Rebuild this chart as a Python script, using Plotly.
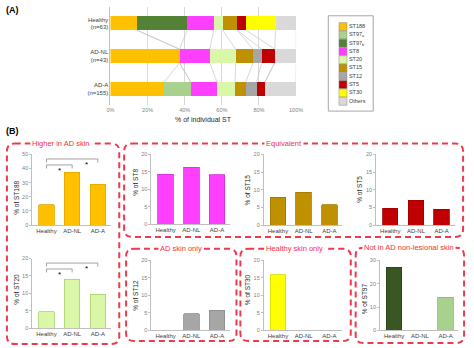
import plotly.graph_objects as go

W, H = 474, 348

# ---------------- data ----------------
groups = ["Healthy", "AD-NL", "AD-A"]
group_n = [63, 43, 155]

st_names = ["ST188", "ST97<sub>a</sub>", "ST97<sub>b</sub>", "ST8", "ST20", "ST15", "ST12", "ST5", "ST30", "Others"]
st_colors = ["#FFC000", "#A9D18E", "#538135", "#FF3FFF", "#D9F7A6", "#BF9000", "#A6A6A6", "#C00000", "#FFFF00", "#D9D9D9"]

# % of individual ST in each group (Healthy, AD-NL, AD-A)
st188 = [14.3, 37.2, 29.0]
st97a = [0.0, 0.0, 14.2]
st97b = [27.0, 0.0, 0.0]
st8 = [14.3, 16.3, 14.2]
st20 = [4.8, 14.0, 9.7]
st15 = [7.9, 9.3, 5.8]
st12 = [0.0, 4.7, 5.8]
st5 = [4.8, 7.0, 4.5]
st30 = [15.9, 0.0, 0.0]
others = [11.1, 11.6, 16.8]
st97 = [27.0, 0.0, 14.2]

series = [st188, st97a, st97b, st8, st20, st15, st12, st5, st30, others]

pct_ticks = [0, 20, 40, 60, 80, 100]
pct_labels = ["0%", "20%", "40%", "60%", "80%", "100%"]

box_titles = ["Higher in AD skin", "Equivalent", "AD skin only", "Healthy skin only", "Not in AD non-lesional skin"]

FONT = "Liberation Sans, Arial, sans-serif"
RED_LINE = "#EC3A4E"
RED_TEXT = "#F2313C"
AX = "#BFBFBF"


def fx(px):
    return px / W


def fy(py):
    return 1 - py / H


fig = go.Figure()
layout = dict(
    width=W, height=H, margin=dict(l=0, r=0, t=0, b=0),
    paper_bgcolor="white", plot_bgcolor="white",
    barmode="stack", showlegend=False,
    font=dict(family=FONT, color="#404040"),
)
shapes = []
annotations = []


def note(text, x, y, size, color, **kw):
    d = dict(text=text, x=x, y=y, xref="paper", yref="paper", showarrow=False,
             xanchor="center", yanchor="middle", font=dict(size=size, color=color))
    d.update(kw)
    annotations.append(d)


# ---------------- panel A ----------------
BAR_H = 0.42
for name, vals, col in zip(st_names, series, st_colors):
    fig.add_trace(go.Bar(x=vals, y=[0, 1, 2], orientation="h", width=BAR_H,
                         marker=dict(color=col, line=dict(width=0)),
                         xaxis="x", yaxis="y", name=name, hoverinfo="skip"))

# series lines (Excel style) connecting cumulative ends between bars
cum = []
run = [0.0, 0.0, 0.0]
for vals in series:
    run = [r + v for r, v in zip(run, vals)]
    cum.append(list(run))
lx, ly = [], []
for c in cum:
    for g in range(2):
        lx += [c[g], c[g + 1], None]
        ly += [g + BAR_H / 2, g + 1 - BAR_H / 2, None]
fig.add_trace(go.Scatter(x=lx, y=ly, mode="lines", line=dict(color="#BDBDBD", width=0.6),
                         xaxis="x", yaxis="y", hoverinfo="skip"))

layout["xaxis"] = dict(domain=[fx(109), fx(299)], range=[0, 100], tickvals=pct_ticks, ticktext=pct_labels,
                       showgrid=True, gridcolor="#D9D9D9", gridwidth=0.8,
                       zeroline=False, showline=False, ticks="", anchor="y",
                       tickfont=dict(size=5.5, color="#7F7F7F"))
layout["yaxis"] = dict(domain=[fy(104), fy(4)], range=[2.5, -0.5], tickvals=[0, 1, 2],
                       ticktext=[f"{g}<br>(n={n})" for g, n in zip(groups, group_n)],
                       showline=True, linecolor=AX, linewidth=1, ticks="", showgrid=False,
                       zeroline=False, anchor="x", tickfont=dict(size=6, color="#404040"))
note("% of individual ST", fx(204), fy(119), 7, "#262626")

# legend (drawn as a small scatter axis)
fig.add_trace(go.Scatter(x=[0] * len(st_names), y=list(range(len(st_names))), mode="markers+text",
                         marker=dict(symbol="square", size=8, color=st_colors,
                                     line=dict(width=0.5, color="#8C8C8C")),
                         text=st_names, textposition="middle right",
                         textfont=dict(size=5.5, color="#404040"), cliponaxis=False,
                         xaxis="x10", yaxis="y10", hoverinfo="skip"))
layout["xaxis10"] = dict(domain=[fx(343), fx(351)], range=[-1, 1], visible=False, anchor="y10")
layout["yaxis10"] = dict(domain=[fy(104.2), fy(19.8)], range=[9.5, -0.5], visible=False, anchor="x10")
shapes.append(dict(type="rect", xref="paper", yref="paper", x0=fx(332), x1=fx(378), y0=fy(110), y1=fy(13),
                   line=dict(color="#A6A6A6", width=1)))

note("<b>(A)</b>", 0, fy(7), 9, "#000000", xanchor="left")
note("<b>(B)</b>", 0, fy(130), 9, "#000000", xanchor="left")

# ---------------- panel B ----------------
S = 26.3  # px per category
XR = [-0.55, 2.5]
panels = [
    # title, values, fill colours, outline colours, ymax, dtick, axis px, top px, bottom px, title offset
    ("% of ST188", st188, ["#FFC000"] * 3, ["#E0A800"] * 3, 50, 10, 29, 154, 226, 8),
    ("% of ST8", st8, ["#FF3FFF"] * 3, ["#D930D9"] * 3, 20, 5, 151, 154, 225, -7),
    ("% of ST15", st15, ["#BF9000"] * 3, ["#A07800"] * 3, 20, 5, 266, 154, 226, 0),
    ("% of ST5", st5, ["#C00000"] * 3, ["#A00000"] * 3, 20, 5, 381, 154, 226, 0),
    ("% of ST20", st20, ["#D9F7A6"] * 3, ["#A8D070"] * 3, 20, 5, 29, 260, 331, -4),
    ("% of ST12", st12, ["#A6A6A6"] * 3, ["#8C8C8C"] * 3, 20, 5, 151, 262, 333, 0),
    ("% of ST30", st30, ["#FFFF00"] * 3, ["#D9D900"] * 3, 20, 5, 266, 262, 333, -6),
    ("% of ST97", st97, ["#385723", "#A9D18E", "#A9D18E"], ["#2A4219", "#8DB870", "#8DB870"], 30, 10, 385, 262, 333, 3),
]

for i, (title, vals, fills, lines, ymax, dtick, axpx, top, bot, toff) in enumerate(panels):
    k = i + 2
    fig.add_trace(go.Bar(x=[0, 1, 2], y=vals, width=0.6,
                         marker=dict(color=fills, line=dict(color=lines, width=0.8)),
                         xaxis=f"x{k}", yaxis=f"y{k}", hoverinfo="skip"))
    layout[f"xaxis{k}"] = dict(domain=[fx(axpx), fx(axpx + (XR[1] - XR[0]) * S)], range=XR,
                               tickvals=[0, 1, 2], ticktext=groups, showline=True, linecolor=AX,
                               linewidth=1, ticks="", showgrid=False, zeroline=False, anchor=f"y{k}",
                               tickfont=dict(size=6, color="#404040"))
    layout[f"yaxis{k}"] = dict(domain=[fy(bot), fy(top)], range=[0, ymax], dtick=dtick, showline=True,
                               linecolor=AX, linewidth=1, ticks="outside", ticklen=2, tickcolor=AX,
                               showgrid=False, zeroline=False, anchor=f"x{k}",
                               tickfont=dict(size=5.5, color="#7F7F7F"))
    note(title, fx(axpx - 16.5), fy((top + bot) / 2 + toff), 6.5, "#262626", textangle=-90)

# significance brackets (Healthy vs AD-NL, Healthy vs AD-A) on ST188 and ST20
comparisons = [(0, 1), (0, 2)]
star_x = [0.5, 1.55]
for k in (2, 6):
    for (a, b), lvl, sx in zip(comparisons, [0.85, 0.935], star_x):
        drop = 0.05
        shapes.append(dict(type="path", xref=f"x{k}", yref=f"y{k} domain",
                           path=f"M {a},{lvl - drop} L {a},{lvl} L {b},{lvl} L {b},{lvl - drop}",
                           line=dict(color="#8C8C8C", width=0.8)))
        annotations.append(dict(text="*", x=sx, xref=f"x{k}", y=lvl - 0.085, yref=f"y{k} domain",
                                showarrow=False, xanchor="center", yanchor="middle",
                                font=dict(size=8, color="#000000")))

# dashed rounded boxes


def rounded_box(x0, y0, x1, y1, r):
    return (f"M {fx(x0 + r)},{fy(y0)} L {fx(x1 - r)},{fy(y0)} Q {fx(x1)},{fy(y0)} {fx(x1)},{fy(y0 + r)} "
            f"L {fx(x1)},{fy(y1 - r)} Q {fx(x1)},{fy(y1)} {fx(x1 - r)},{fy(y1)} "
            f"L {fx(x0 + r)},{fy(y1)} Q {fx(x0)},{fy(y1)} {fx(x0)},{fy(y1 - r)} "
            f"L {fx(x0)},{fy(y0 + r)} Q {fx(x0)},{fy(y0)} {fx(x0 + r)},{fy(y0)} Z")


boxes = [
    (3, 143, 118, 347, 58),
    (123, 143, 470, 238, 287),
    (125, 250, 238, 344, 181),
    (242, 250, 355, 344, 297),
    (360, 249, 471, 346, 415),
]
for (x0, y0, x1, y1, tx), t in zip(boxes, box_titles):
    shapes.append(dict(type="path", xref="paper", yref="paper", path=rounded_box(x0, y0, x1, y1, 8),
                       line=dict(color=RED_LINE, width=2, dash="6px,4px"), layer="below"))
    note(t, fx(tx), fy(y0), 7.5, RED_TEXT, bgcolor="white", borderpad=1)

layout["shapes"] = shapes
layout["annotations"] = annotations
fig.update_layout(**layout)

fig.write_html("out.html", config={"displayModeBar": False})
